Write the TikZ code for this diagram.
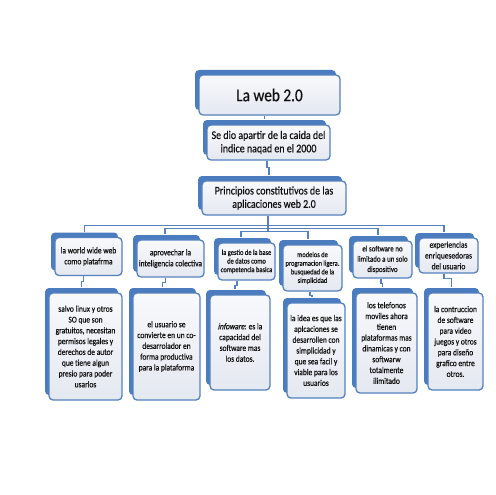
\documentclass[tikz,border=0pt]{standalone}
\usepackage{fontspec}
\newfontfamily\cf{Carlito}[FakeStretch=0.85,FakeBold=0.4]
\newfontfamily\cfi{Carlito}[FakeStretch=0.85,FakeBold=0.4,FakeSlant=0.22]
\usetikzlibrary{shadows,calc}
\definecolor{bblue}{HTML}{4A7CBF}
\definecolor{bline}{HTML}{5582BE}
\definecolor{ftop}{HTML}{F8F9FC}
\definecolor{fbot}{HTML}{E4E8F0}
\definecolor{txt}{HTML}{101010}
\begin{document}
\begin{tikzpicture}[x=1pt,y=-1pt,
  box/.style={draw=bline, line width=1.3pt, rounded corners=4pt, top color=ftop, bottom color=fbot,
    align=center, inner sep=1pt, text=txt,
    general shadow={fill=bblue, shadow xshift=-4pt, shadow yshift=5pt}},
  conn/.style={draw=bline, line width=1.2pt},
  ftitle/.style={font={\cf\fontsize{18}{20}\selectfont}},
  fone/.style={font={\cf\fontsize{11.7}{13.3}\selectfont}},
  ftwo/.style={font={\cf\fontsize{8.8}{11}\selectfont}},
  fsmall/.style={font={\cf\fontsize{7.6}{8.6}\selectfont}},
  fthree/.style={font={\cf\fontsize{8.8}{10.8}\selectfont}},
]
\useasboundingbox[fill=white] (0,0) rectangle (495,495);

\node[box,ftitle,minimum width=141pt,minimum height=40pt] (T) at (269.5,95) {La web 2.0};
\node[box,fone,minimum width=123pt,minimum height=35pt] (S) at (268.5,142.5) {Se dio apartir de la caida del\\indice naqad en el 2000};
\node[box,fone,minimum width=144pt,minimum height=34pt] (P) at (274,198) {Principios constitutivos de las\\aplicaciones web 2.0};

\node[box,ftwo,minimum width=67pt,minimum height=38pt] (A1) at (88.5,256.5) {la world wide web\\como platafrma};
\node[box,ftwo,minimum width=67pt,minimum height=37pt] (A2) at (170.5,258.5) {aprovechar la\\inteligencia colectiva};
\node[box,fsmall,minimum width=57pt,minimum height=37pt] (A3) at (246.5,261.5) {la gestio de la base\\de datos como\\competencia basica};
\node[box,fsmall,minimum width=59pt,minimum height=46pt] (A4) at (312.5,268) {modelos de\\programacion ligera.\\busquedad de la\\simplicidad};
\node[box,font={\cf\fontsize{8.2}{10.3}\selectfont},minimum width=59pt,minimum height=37pt] (A5) at (382.5,259.5) {el software no\\limitado a un solo\\dispositivo};
\node[box,font={\cf\fontsize{8.8}{10.8}\selectfont},minimum width=59pt,minimum height=35pt] (A6) at (448.5,255.5) {experiencias\\enriquesedoras\\del usuario};

\node[box,fthree,minimum width=73pt,minimum height=107pt] (B1) at (85.5,346.5) {salvo linux y otros\\SO que son\\gratuitos, necesitan\\permisos legales y\\derechos de autor\\que tiene algun\\presio para poder\\usarlos};
\node[box,fthree,minimum width=67pt,minimum height=107pt] (B2) at (166.5,346.5) {el usuario se\\convierte en un co-\\desarrolador en\\forma productiva\\para la plataforma};
\node[box,fthree,minimum width=60pt,minimum height=95pt] (B3) at (240,342.5) {{\cfi infoware}: es la\\capacidad del\\software mas\\los datos.};
\node[box,fthree,minimum width=58pt,minimum height=95pt] (B4) at (316,350.5) {la idea es que las\\aplcaciones se\\desarrollen con\\simplicidad y\\que sea facil y\\viable para los\\usuarios};
\node[box,fthree,minimum width=61pt,minimum height=100pt] (B5) at (386.5,343) {los telefonos\\moviles ahora\\tienen\\plataformas mas\\dinamicas y con\\softwarw\\totalmente\\ilimitado};
\node[box,fthree,minimum width=55pt,minimum height=97pt] (B6) at (455.5,341.5) {la contruccion\\de software\\para video\\juegos y otros\\para diseño\\grafico entre\\otros.};

% top connectors
\draw[conn] ($(T.south)+(-5,0)$) -- ($(S.north)+(-4,-5)$);
\draw[conn] ($(S.south)+(-1.5,0)$) -- ++(0,7) -| ($(P.north)+(-5,-5)$);
\coordinate (hub) at (268,231.7);
\coordinate (b1) at (268,225.7);
\coordinate (b2) at (268,228.6);
\draw[conn] ($(P.south)+(-6,0)$) -- (hub);
\draw[conn] ($(A1.north)+(-4,-5)$) |- (b1) -| ($(A6.north)+(-4.5,-5)$);
\draw[conn] ($(A2.north)+(-5.5,-5)$) |- (b2) -| ($(A5.north)+(-4.5,-5)$);
\draw[conn] ($(A3.north)+(-5.5,-5)$) |- (hub) -| ($(A4.north)+(-4.5,-5)$);

% second level connectors
\draw[conn] ($(A1.south)+(-5,0)$) -- ++(0,5) -| ($(B1.north)+(-4,-5)$);
\draw[conn] ($(A2.south)+(-5,0)$) -- ++(0,5) -| ($(B2.north)+(-4,-5)$);
\draw[conn] ($(A3.south)+(-9.5,0)$) -- ++(0,5) -| ($(B3.north)+(-5,-5)$);
\draw[conn] ($(A4.south)+(-2.5,0)$) -- ++(0,3.5) -| ($(B4.north)+(-4,-5)$);
\draw[conn] ($(A5.south)+(-1.5,0)$) -- ++(0,5) -| ($(B5.north)+(-4,-5)$);
\draw[conn] ($(A6.south)+(-4.5,0)$) -- ++(0,5) -| ($(B6.north)+(-4,-5)$);
\end{tikzpicture}
\end{document}
